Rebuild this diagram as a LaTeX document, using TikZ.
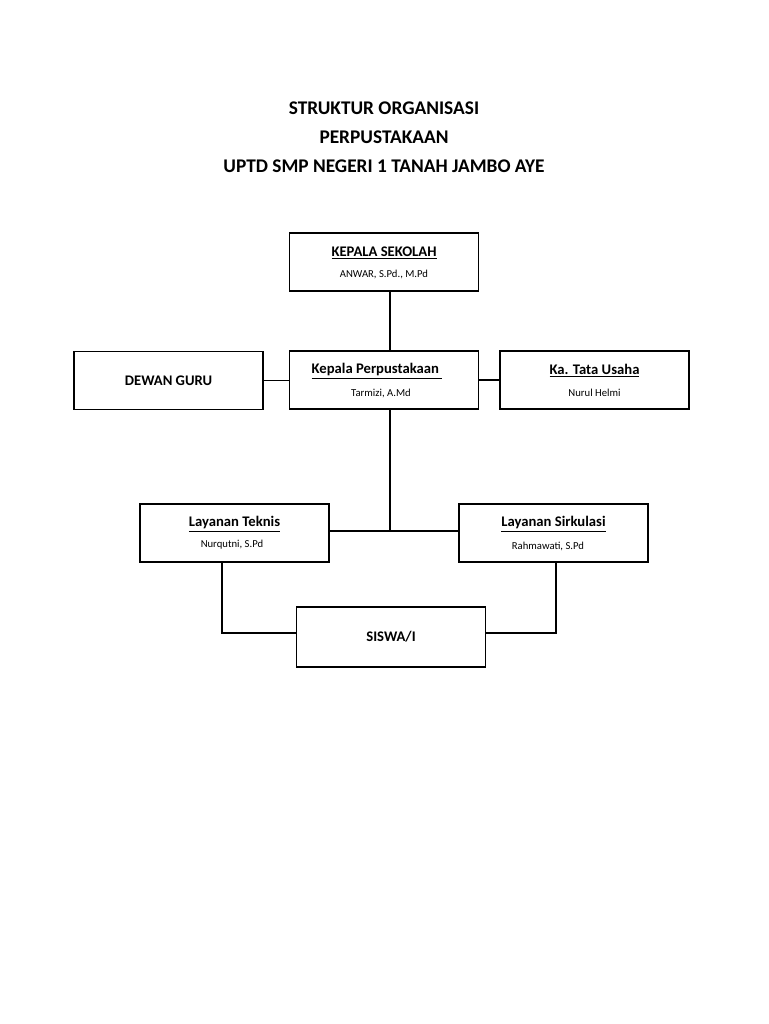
\documentclass[tikz,border=0pt]{standalone}
\usepackage{fontspec}
\setmainfont{Carlito}
\begin{document}
\begin{tikzpicture}[x=0.75pt,y=-0.75pt,
  box/.style={draw,line width=1.2pt,minimum width=141.75pt,minimum height=43.5pt,inner sep=0pt},
  hd/.style={font=\bfseries\fontsize{11}{13}\selectfont},
  sb/.style={font=\fontsize{8}{10}\selectfont},
  ttl/.style={font=\bfseries\fontsize{14.5}{17}\selectfont},
  ln/.style={line width=0.8pt}]
\useasboundingbox (0,0) rectangle (768,1024);
\node[ttl] (t1) at (384,108) {STRUKTUR ORGANISASI};
\node[ttl] (t2) at (384,137) {PERPUSTAKAAN};
\node[ttl] (t3) at (384,166) {UPTD SMP NEGERI 1 TANAH JAMBO AYE};

\node[box] (ks) at (384,262) {};
\node[hd] (ksh) at (384,253) {\underline{KEPALA SEKOLAH}};
\node[sb] (kss) at (384,274) {ANWAR, S.Pd., M.Pd};

\node[box] (dg) at (168.5,380.5) {};
\node[hd] (dgh) at (168.5,380.5) {DEWAN GURU};

\node[box] (kp) at (384,380) {};
\node[hd] (kph) at (377,371) {\underline{Kepala Perpustakaan }};
\node[sb] (kps) at (381,393) {Tarmizi, A.Md};

\node[box] (tu) at (594.5,380) {};
\node[hd] (tuh) at (594.5,371) {\underline{Ka. Tata Usaha}};
\node[sb] (tus) at (594.5,393) {Nurul Helmi};

\node[box] (lt) at (234.5,533) {};
\node[hd] (lth) at (234.5,524) {\underline{Layanan Teknis}};
\node[sb] (lts) at (232,545) {Nurqutni, S.Pd};

\node[box] (ls) at (553.5,533) {};
\node[hd] (lsh) at (553.5,524) {\underline{Layanan Sirkulasi}};
\node[sb] (lss) at (548,546) {Rahmawati, S.Pd};

\node[box,minimum height=45pt] (sw) at (391,637) {};
\node[hd] (swh) at (391,637) {SISWA/I};

\coordinate (j1) at (390,531);
\draw[ln] (ks.south -| 390,0) -- (kp.north -| 390,0);
\draw[ln] (dg.east) -- (kp.west |- dg.east);
\draw[ln] (kp.east |- tu.west) -- (tu.west);
\draw[ln] (kp.south -| j1) -- (j1);
\draw[ln] (lt.east |- j1) -- (ls.west |- j1);
\draw[ln] (lt.south -| 222,0) |- (sw.west |- 0,633);
\draw[ln] (ls.south -| 556,0) |- (sw.east |- 0,633);
\end{tikzpicture}
\end{document}
